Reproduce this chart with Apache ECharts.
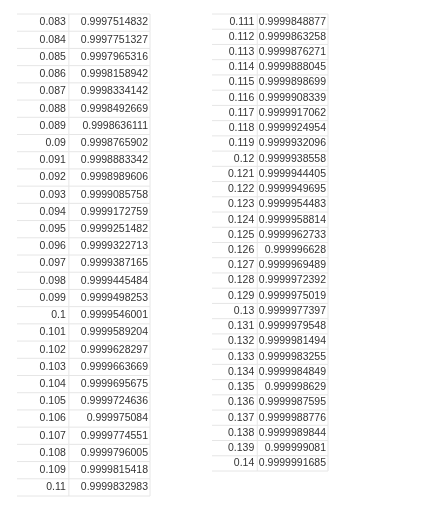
<!DOCTYPE html>
<html><head><meta charset="utf-8">
<script src="https://cdn.jsdelivr.net/npm/echarts@6/dist/echarts.min.js"></script>
<style>html,body{margin:0;padding:0;background:#fff}#c{width:427px;height:526px}</style>
</head><body><div id="c"></div>
<script>
const leftKeys = ['0.083','0.084','0.085','0.086','0.087','0.088','0.089','0.09','0.091','0.092','0.093','0.094','0.095','0.096','0.097','0.098','0.099','0.1','0.101','0.102','0.103','0.104','0.105','0.106','0.107','0.108','0.109','0.11'];
const leftVals = ['0.9997514832','0.9997751327','0.9997965316','0.9998158942','0.9998334142','0.9998492669','0.9998636111','0.9998765902','0.9998883342','0.9998989606','0.9999085758','0.9999172759','0.9999251482','0.9999322713','0.9999387165','0.9999445484','0.9999498253','0.9999546001','0.9999589204','0.9999628297','0.9999663669','0.9999695675','0.9999724636','0.999975084','0.9999774551','0.9999796005','0.9999815418','0.9999832983'];
const rightKeys = ['0.111','0.112','0.113','0.114','0.115','0.116','0.117','0.118','0.119','0.12','0.121','0.122','0.123','0.124','0.125','0.126','0.127','0.128','0.129','0.13','0.131','0.132','0.133','0.134','0.135','0.136','0.137','0.138','0.139','0.14'];
const rightVals = ['0.9999848877','0.9999863258','0.9999876271','0.9999888045','0.9999898699','0.9999908339','0.9999917062','0.9999924954','0.9999932096','0.9999938558','0.9999944405','0.9999949695','0.9999954483','0.9999958814','0.9999962733','0.999996628','0.9999969489','0.9999972392','0.9999975019','0.9999977397','0.9999979548','0.9999981494','0.9999983255','0.9999984849','0.999998629','0.9999987595','0.9999988776','0.9999989844','0.999999081','0.9999991685'];

const chart = echarts.init(document.getElementById('c'));
const FONT = {fontFamily:'Liberation Sans, Arial', fontSize:10.5, fill:'#333'};
function render(keys, vals){
  return function(params, api){
    const i = api.value(0);
    const top = api.coord([0, i]);
    const band = api.size([0, 1])[1];
    const x0 = api.coord([0, 0])[0], xd = api.coord([0.39, 0])[0], x1 = api.coord([1, 0])[0];
    const y0 = top[1] - band/2, y1 = top[1] + band/2, yc = top[1];
    const ls = {stroke:'#e6e6e6', lineWidth:1};
    const ch = [
      {type:'line', shape:{x1:x0,y1:y1,x2:x1,y2:y1}, style:ls},
      {type:'line', shape:{x1:xd,y1:y0,x2:xd,y2:y1}, style:ls},
      {type:'line', shape:{x1:x1,y1:y0,x2:x1,y2:y1}, style:ls},
      {type:'text', style:Object.assign({text:keys[i], x:xd-3, y:yc, align:'right', verticalAlign:'middle'}, FONT)},
      {type:'text', style:Object.assign({text:vals[i], x:x1-2, y:yc, align:'right', verticalAlign:'middle'}, FONT)}
    ];
    if (i === 0) ch.push({type:'line', shape:{x1:x0,y1:y0,x2:x1,y2:y0}, style:ls});
    return {type:'group', children:ch};
  };
}
chart.setOption({
  animation:false,
  grid:[{left:17, width:133, top:14, height:482},{left:212, width:116, top:14, height:457}],
  xAxis:[{gridIndex:0,type:'value',min:0,max:1,show:false},{gridIndex:1,type:'value',min:0,max:1,show:false}],
  yAxis:[{gridIndex:0,type:'category',inverse:true,data:leftKeys,show:false},{gridIndex:1,type:'category',inverse:true,data:rightKeys,show:false}],
  series:[
    {type:'custom', xAxisIndex:0, yAxisIndex:0, data:leftKeys.map((k,i)=>[i]), encode:{y:0}, renderItem:render(leftKeys,leftVals)},
    {type:'custom', xAxisIndex:1, yAxisIndex:1, data:rightKeys.map((k,i)=>[i]), encode:{y:0}, renderItem:render(rightKeys,rightVals)}
  ]
});
</script></body></html>
